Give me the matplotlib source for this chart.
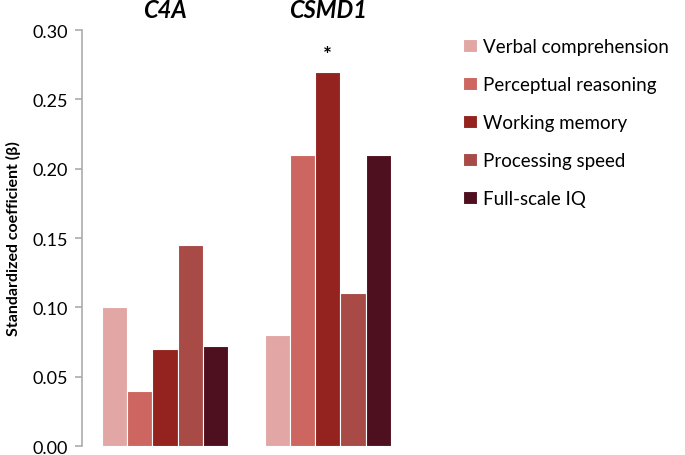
import numpy as np
import matplotlib.pyplot as plt

plt.rcParams['font.family'] = ['Lato', 'DejaVu Sans']

genes = ['C4A', 'CSMD1']
domains = ['Verbal comprehension', 'Perceptual reasoning', 'Working memory',
           'Processing speed', 'Full-scale IQ']
colors = ['#E2A7A4', '#CD6660', '#94231F', '#A84A45', '#4E0F1E']

# beta values per domain, [C4A, CSMD1]
verbal = [0.100, 0.080]
perceptual = [0.040, 0.210]
working = [0.070, 0.270]
speed = [0.145, 0.110]
fsiq = [0.072, 0.210]
values = [verbal, perceptual, working, speed, fsiq]

# significant bars: (domain index, gene index)
signif = [(2, 1)]

fig = plt.figure(figsize=(6.85, 4.56), dpi=100)
ax = fig.add_axes([0.1197, 0.0197, 0.493, 0.9123])

x = np.arange(len(genes))
w = 0.155
handles = []
for i, (vals, c) in enumerate(zip(values, colors)):
    b = ax.bar(x + (i - 2) * w, vals, width=w, color=c, edgecolor='white',
               linewidth=0.8, label=domains[i])
    handles.append(b)

for d, g in signif:
    ax.text(x[g] + (d - 2) * w, values[d][g] + 0.005, '*', ha='center',
            va='bottom', fontsize=15, fontweight='bold')

ax.set_xlim(-0.509, 0.564 + 1)
ax.set_ylim(0, 0.30)
ax.set_yticks(np.arange(0, 0.31, 0.05))
ax.set_yticklabels(['%.2f' % v for v in np.arange(0, 0.31, 0.05)], fontsize=13)
ax.set_xticks([])
for s in ['top', 'right', 'bottom']:
    ax.spines[s].set_visible(False)
ax.spines['left'].set_color('#ABABAB')
ax.spines['left'].set_linewidth(1.2)
ax.tick_params(axis='y', color='#ABABAB', length=5, width=1.2, pad=5)
ax.set_ylabel('Standardized coefficient (\u03b2)', fontsize=11.5,
              fontweight='bold', labelpad=8)

for xi, g in zip(x, genes):
    ax.text(xi, 1.05, g, transform=ax.get_xaxis_transform(), ha='center',
            va='center', fontsize=17, fontweight='bold', fontstyle='italic')

fig.legend(handles=handles, loc='upper left', bbox_to_anchor=(0.652, 0.952),
           frameon=False, fontsize=13.5, handlelength=0.7, handleheight=0.7,
           handletextpad=0.35, labelspacing=1.12)

fig.savefig('out.png', dpi=100)
